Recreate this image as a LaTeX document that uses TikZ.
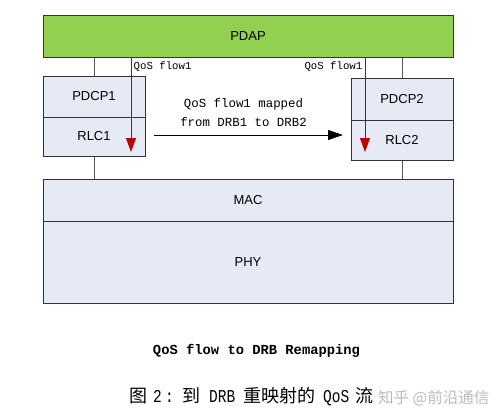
\documentclass[tikz,border=0pt]{standalone}
\usepackage{fontspec}
\usepackage{graphicx}
\setmainfont{Liberation Sans}
\newfontfamily\monof{Liberation Mono}
\newfontfamily\cjkf{Noto Sans CJK SC}
\usetikzlibrary{arrows.meta}
\definecolor{pdapgreen}{HTML}{92D050}
\definecolor{boxfill}{HTML}{E5EAF4}
\definecolor{boxline}{HTML}{333333}
\definecolor{conline}{HTML}{555555}
\definecolor{flowred}{HTML}{C00000}
\definecolor{wmgrey}{HTML}{BBBBBB}
\newcommand{\capl}[1]{\scalebox{1}[1.25]{\monof\fontsize{14.5}{16}\selectfont #1}}
\tikzset{
  layer/.style={draw=boxline, line width=1pt, fill=boxfill, inner sep=0pt,
    font=\fontsize{13}{15}\selectfont},
  conn/.style={draw=conline, line width=0.9pt},
  flow/.style={draw=flowred, line width=0.9pt, -{Triangle[length=14pt,width=10pt]}},
  remap/.style={draw=black, line width=0.9pt, -{Triangle[length=15pt,width=10pt]}},
  flowlabel/.style={inner sep=0pt, font=\monof\fontsize{10.7}{12}\selectfont},
}
\begin{document}
\begin{tikzpicture}[x=1pt,y=-1pt]
\useasboundingbox[fill=white] (0,0) rectangle (499,418);
% layers
\node[layer, fill=pdapgreen, minimum width=410pt, minimum height=42pt] (pdap) at (248,36) {PDAP};
\node[layer, minimum width=102pt, minimum height=41pt] (pdcp1) at (94,96.5) {PDCP1};
\node[layer, minimum width=102pt, minimum height=39pt] (rlc1) at (94,136.5) {RLC1};
\node[layer, minimum width=102pt, minimum height=42pt] (pdcp2) at (402,99) {PDCP2};
\node[layer, minimum width=102pt, minimum height=40pt] (rlc2) at (402,140) {RLC2};
\node[layer, minimum width=410pt, minimum height=42pt] (mac) at (248,200) {MAC};
\node[layer, minimum width=410pt, minimum height=82pt] (phy) at (248,262) {PHY};
% vertical connectors
\draw[conn] (pdcp1.north) -- (pdcp1.north |- pdap.south);
\draw[conn] (pdcp2.north) -- (pdcp2.north |- pdap.south);
\draw[conn] (rlc1.south) -- (rlc1.south |- mac.north);
\draw[conn] (rlc2.south) -- (rlc2.south |- mac.north);
% QoS flows
\coordinate (f1s) at (131,57.5);
\coordinate (f1e) at (131,152);
\coordinate (f2s) at (365,57.5);
\coordinate (f2e) at (365,152);
\draw[flow] (f1s) -- (f1e);
\draw[flow] (f2s) -- (f2e);
\node[flowlabel, anchor=west] (lab1) at (133.5,66.5) {QoS flow1};
\node[flowlabel, anchor=east] (lab2) at (362.5,67) {QoS flow1};
% remapping arrow
\coordinate (ra) at (154,135);
\coordinate (rb) at (343,135);
\draw[remap] (ra) -- (rb);
\node[inner sep=0pt, align=center, font=\monof\fontsize{12.4}{19}\selectfont] (maptext) at (243.5,112.5) {QoS flow1 mapped\\from DRB1 to DRB2};
% captions
\node[inner sep=0pt, font=\monof\bfseries\fontsize{13.8}{16}\selectfont] (cap1) at (256.5,351) {QoS flow to DRB Remapping};
\node[inner sep=0pt, anchor=west, font=\cjkf\fontsize{18}{20}\selectfont] (cap2) at (129,397)
  {\makebox[24pt][l]{图}\makebox[12pt][l]{\capl{2}}\makebox[17pt][l]{\capl{:}}\makebox[27pt][l]{到}\makebox[34pt][l]{\capl{DRB}}\makebox[80pt][l]{重映射的}\makebox[32pt][l]{\capl{QoS}}流};
\node[inner sep=0pt, anchor=west, text=wmgrey, font=\cjkf\fontsize{15.5}{18}\selectfont] (wm) at (378,398) {知乎 @前沿通信};
\end{tikzpicture}
\end{document}
